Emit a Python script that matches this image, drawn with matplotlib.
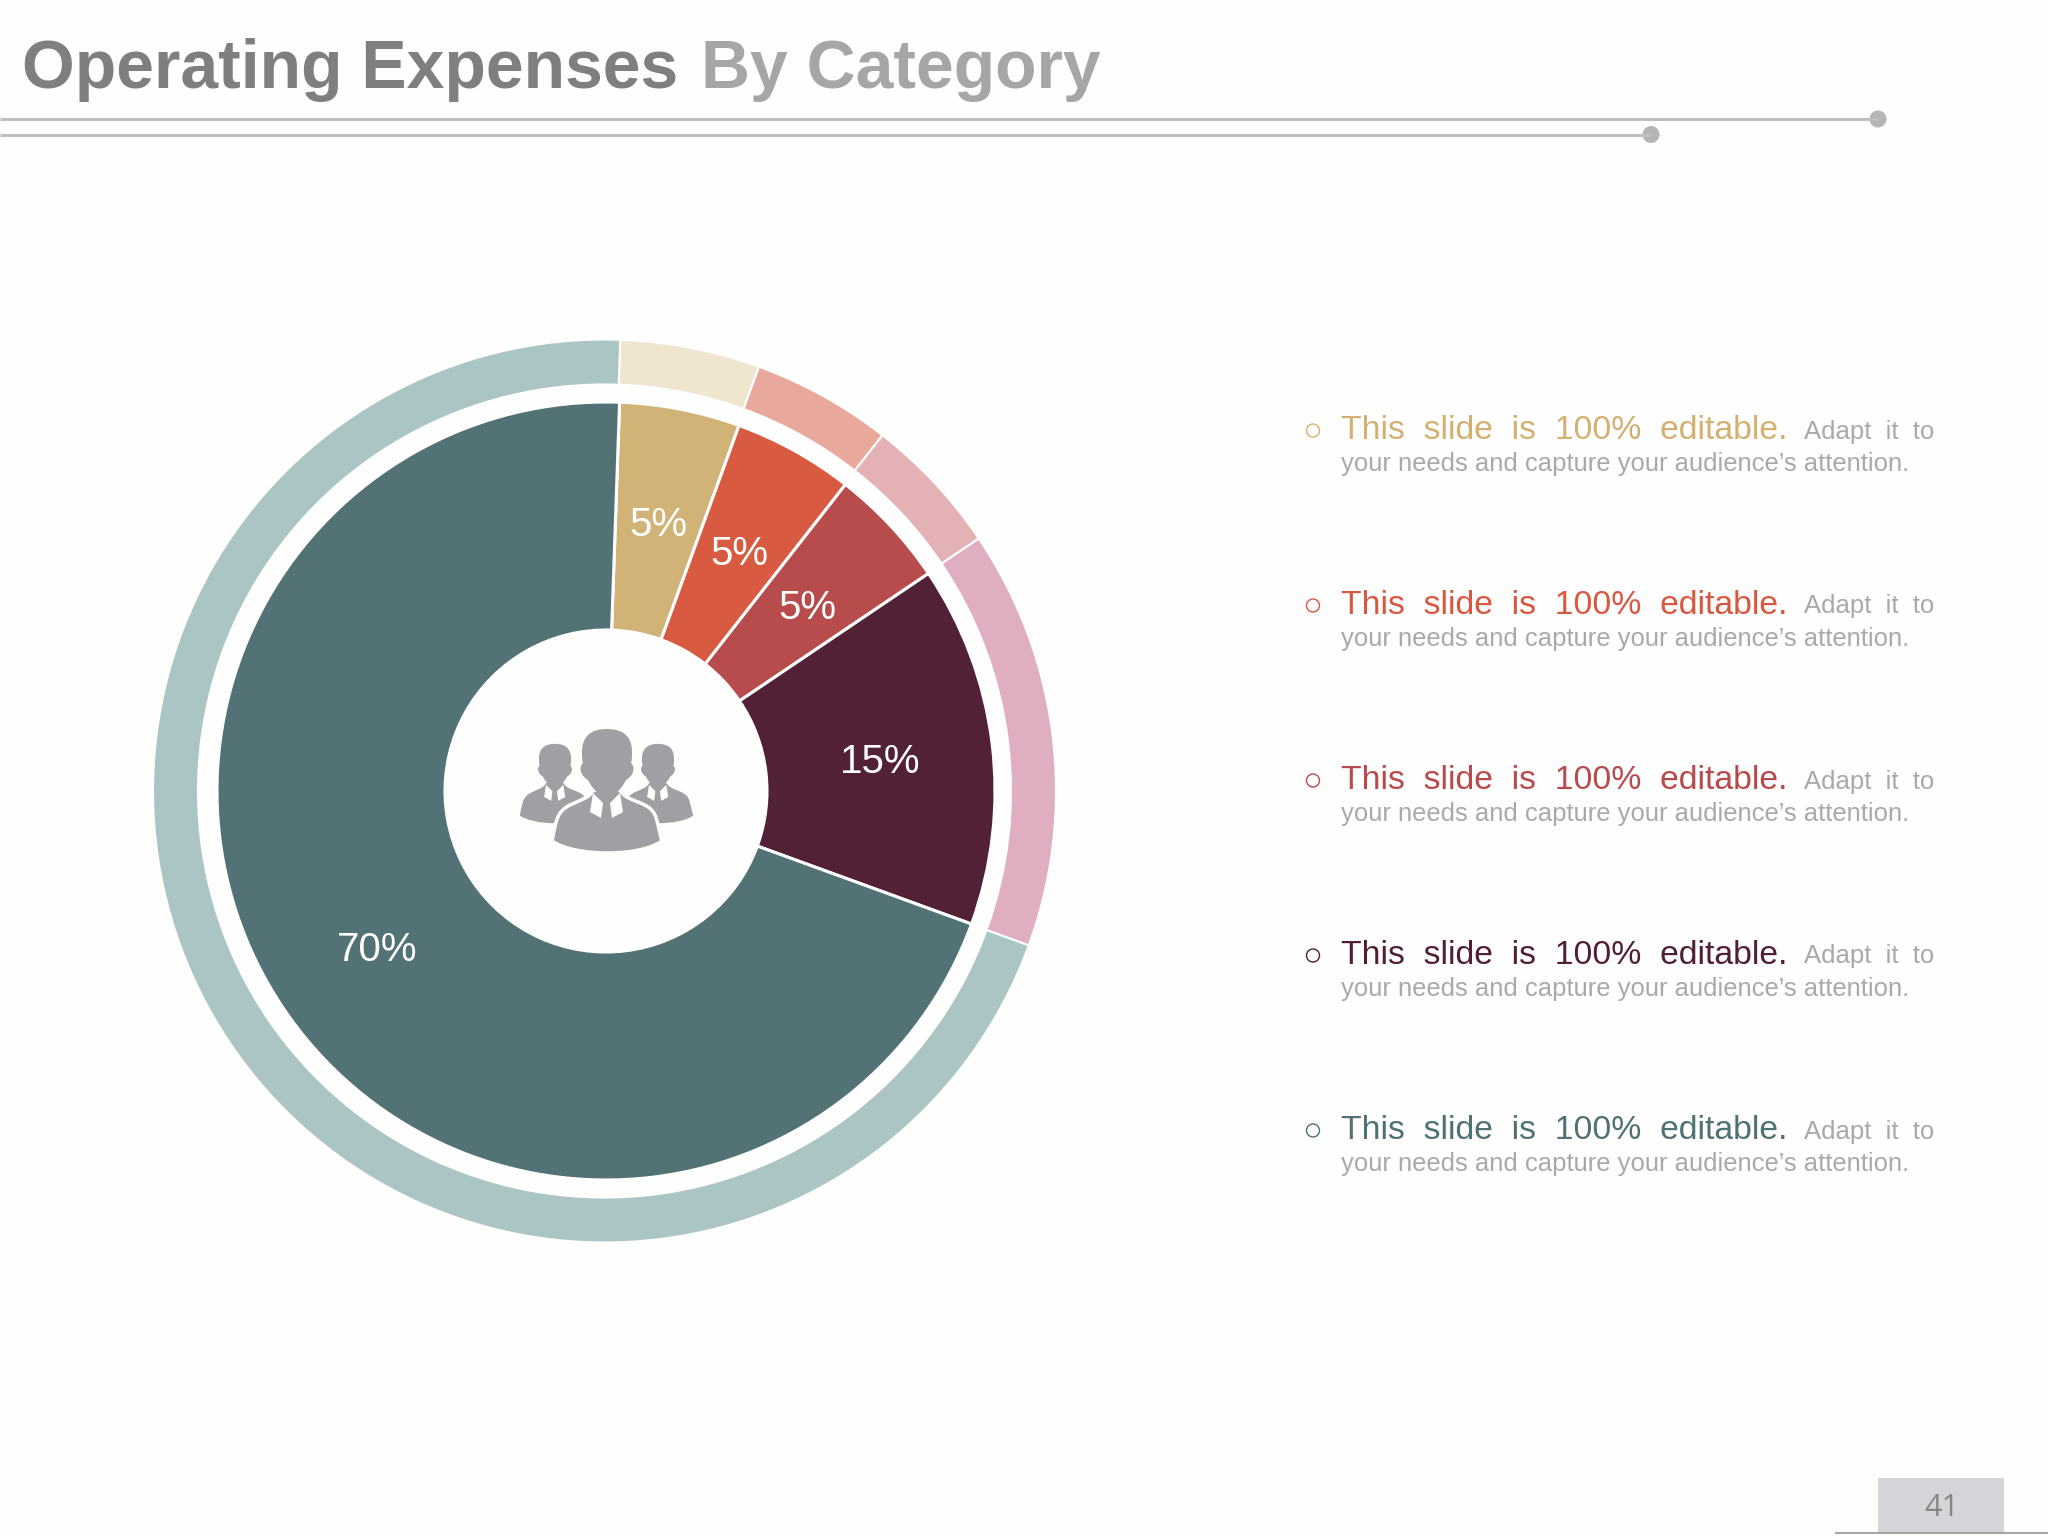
import numpy as np
import matplotlib
matplotlib.use("Agg")
import matplotlib.pyplot as plt
from matplotlib.path import Path
from matplotlib.patches import PathPatch, Circle

# Data
shares = [5, 5, 5, 15, 70]
share_labels = ["5%", "5%", "5%", "15%", "70%"]
inner_colors = ["#d1b378", "#d85a41", "#b84b4c", "#522135", "#527276"]
outer_colors = ["#f0e6d0", "#e9a89c", "#e4b2b4", "#dfafc1", "#abc5c5"]
head_colors = ["#d4b070", "#d9573f", "#b94a4b", "#511f35", "#4f7173"]
headline = "This  slide  is  100%  editable."
tail = "Adapt  it  to"
second_line = "your needs and capture your audience\u2019s attention."

W, H = 2048, 1536
plt.rcParams["font.family"] = ["Liberation Sans", "DejaVu Sans"]
fig = plt.figure(figsize=(W / 100, H / 100), dpi=100, facecolor="#fefefe")
ax = fig.add_axes([0, 0, 1, 1])

def Y(y):
    return H - y

ax.pie(shares, radius=451.5, center=(604.5, Y(791)), startangle=88, counterclock=False,
       colors=outer_colors, wedgeprops=dict(width=45, edgecolor="white", linewidth=1.5))
wedges, _, auto = ax.pie(shares, radius=389, center=(606, Y(791)), startangle=88, counterclock=False,
       colors=inner_colors, labels=None, autopct=lambda p: "%d%%" % round(p),
       textprops=dict(color="white", fontsize=29),
       wedgeprops=dict(width=228, edgecolor="white", linewidth=2.2))
label_xy = [(658, 525), (739, 554), (807, 608), (880, 762), (377, 950)]
for t, (x, y) in zip(auto, label_xy):
    t.set_position((x, Y(y)))
    t.set_ha("center")
    t.set_va("center")

ax.set_xlim(0, W)
ax.set_ylim(0, H)
ax.set_aspect("equal")
ax.axis("off")

# Title
ax.text(22, Y(88), "Operating Expenses", fontsize=48.9, fontweight="bold", color="#7f7f7f", va="baseline")
ax.text(701, Y(88), "By Category", fontsize=48.9, fontweight="bold", color="#a6a6a6", va="baseline")

# Header rules
ax.plot([0, 1878], [Y(119), Y(119)], color="#bfbfbf", lw=2.2, solid_capstyle="butt")
ax.plot([0, 1651], [Y(134.5), Y(134.5)], color="#bfbfbf", lw=2.2, solid_capstyle="butt")
ax.add_patch(Circle((1878, Y(119)), 8.5, color="#b5b5b8", lw=0))
ax.add_patch(Circle((1651, Y(134.5)), 8.5, color="#b5b5b8", lw=0))

# Text rows
for i, c in enumerate(head_colors):
    dy = 175 * i
    ax.add_patch(Circle((1313, Y(430.5 + dy)), 6.5, fc="none", ec=c, lw=1.0))
    ax.text(1341, Y(439 + dy), headline, fontsize=24.3, color=c, va="baseline")
    ax.text(1804, Y(438.5 + dy), tail, fontsize=18.5, color="#a8a8ae", va="baseline")
    ax.text(1341, Y(471 + dy), second_line, fontsize=18.45, color="#a8a8ae", va="baseline")

# Page number
ax.fill_between([1878, 2004], Y(1533), Y(1478), color="#d5d4d8", lw=0)
ax.plot([1836, 2048], [Y(1533), Y(1533)], color="#a6a6a6", lw=1.5)
ax.text(1942, Y(1508), "41", fontsize=22, color="#868686", family=["Open Sans", "DejaVu Sans"],
        ha="center", va="center")

# People icon
def person(px, py, s, edge=None):
    def T(pts):
        p = np.asarray(pts, float)
        return np.c_[px + (p[:, 0] - 607) * s, Y(py + (p[:, 1] - 762) * s)]
    body = [(552, 841), (556, 822), (556, 812), (570, 805), (580, 800), (590, 798), (593, 790),
            (620, 790), (625, 800), (640, 801), (648, 807), (658, 813), (657, 825), (662, 841),
            (640, 857), (575, 857), (552, 841), (552, 841)]
    body_codes = [Path.MOVETO] + [Path.CURVE4] * 6 + [Path.LINETO] + [Path.CURVE4] * 9 + [Path.CLOSEPOLY]
    head = [(607, 729), (625, 729), (632, 738), (632, 752), (632, 758), (632, 760), (631, 763),
            (636, 768), (633, 776), (626, 780), (620, 792), (612, 797), (607, 797),
            (602, 797), (594, 792), (588, 780), (581, 776), (578, 768), (583, 763),
            (582, 760), (582, 758), (582, 752), (582, 738), (589, 729), (607, 729), (607, 729)]
    head_codes = [Path.MOVETO] + [Path.CURVE4] * 24 + [Path.CLOSEPOLY]
    g = "#a09fa3"
    ax.add_patch(PathPatch(Path(T(body), body_codes), fc=g, ec="white" if edge else "none",
                           lw=edge or 0, zorder=5))
    ax.add_patch(PathPatch(Path(T(head), head_codes), fc=g, ec="none", zorder=6))
    for pts in ([(593, 793), (590, 812), (601, 818), (603, 803)],
                [(620, 793), (623, 812), (612, 818), (610, 803)]):
        ax.fill(*T(pts).T, color="white", lw=0, zorder=7)

person(555, 765, 0.64)
person(658, 765, 0.64)
person(607, 762, 1.0, edge=2.5)

fig.savefig("out.png", dpi=100, facecolor=fig.get_facecolor())
